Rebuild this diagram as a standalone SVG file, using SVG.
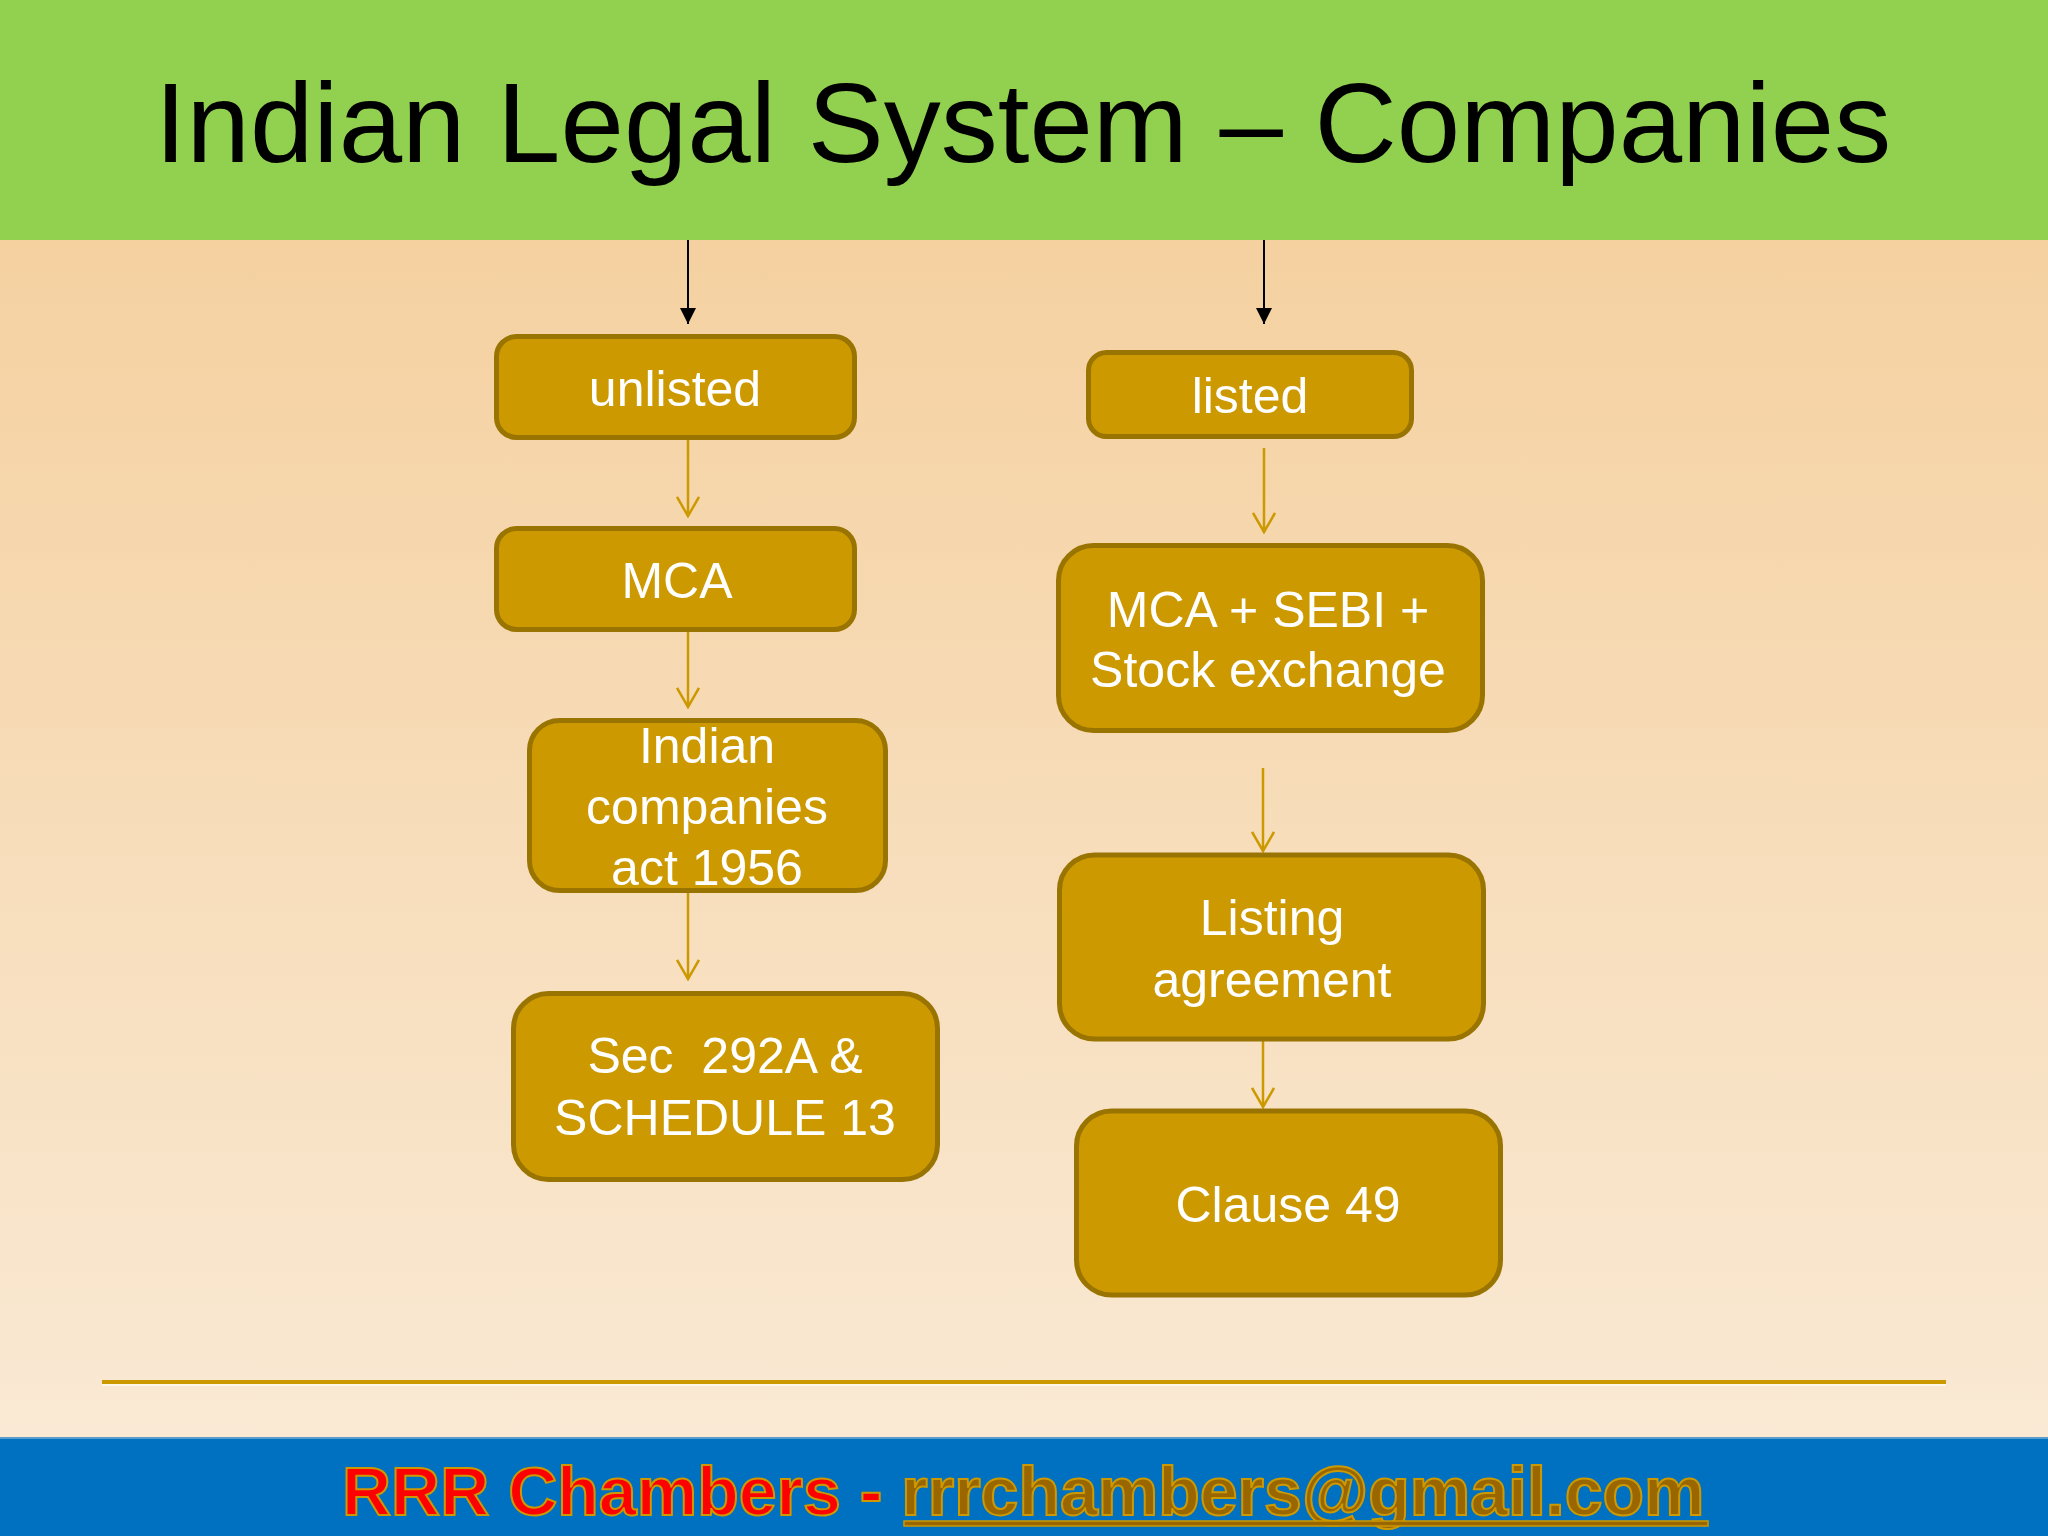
<svg xmlns="http://www.w3.org/2000/svg" width="2048" height="1536" viewBox="0 0 2048 1536">
<style>
.box{fill:#CC9900;stroke:#9A7400;stroke-width:5}
.t{font-family:"Liberation Sans",Arial,sans-serif;font-size:50px;fill:#FFFFFF;text-anchor:middle}
.blk{stroke:#000000;stroke-width:2;fill:none}
.gld{stroke:#CC9900;stroke-width:2.5;fill:none}
</style>
<defs>
<linearGradient id="bg" x1="0" y1="0" x2="0" y2="1">
<stop offset="0" stop-color="#F4CC96"/>
<stop offset="1" stop-color="#FAEBD8"/>
</linearGradient>
<marker id="solid" markerUnits="userSpaceOnUse" viewBox="0 0 16 16" refX="16" refY="8" markerWidth="16" markerHeight="16" orient="auto">
<path d="M0,0 L16,8 L0,16 z" fill="#000000"/>
</marker>
<marker id="open" markerUnits="userSpaceOnUse" viewBox="0 0 22 24" refX="20" refY="12" markerWidth="22" markerHeight="24" orient="auto">
<path d="M1,1 L20,12 L1,23" fill="none" stroke="#CC9900" stroke-width="2.5"/>
</marker>
</defs>
<rect x="0" y="0" width="2048" height="1536" fill="url(#bg)"/>
<rect x="0" y="0" width="2048" height="240" fill="#92D050"/>
<text x="1023" y="162" font-family="'Liberation Sans',Arial,sans-serif" font-size="114" fill="#000000" text-anchor="middle">Indian Legal System – Companies</text>

<g id="connectors">
<line class="blk" x1="688" y1="240" x2="688" y2="324" marker-end="url(#solid)"/>
<line class="blk" x1="1264" y1="240" x2="1264" y2="324" marker-end="url(#solid)"/>
<line class="gld" x1="688" y1="440" x2="688" y2="516" marker-end="url(#open)"/>
<line class="gld" x1="688" y1="632" x2="688" y2="707" marker-end="url(#open)"/>
<line class="gld" x1="688" y1="893" x2="688" y2="979" marker-end="url(#open)"/>
<line class="gld" x1="1264" y1="448" x2="1264" y2="532" marker-end="url(#open)"/>
<line class="gld" x1="1263" y1="768" x2="1263" y2="851" marker-end="url(#open)"/>
<line class="gld" x1="1263" y1="1041" x2="1263" y2="1107" marker-end="url(#open)"/>
</g>

<g id="node-unlisted">
<rect class="box" x="496.5" y="336.5" width="358" height="101" rx="20"/>
<text class="t" x="675" y="406">unlisted</text>
</g>
<g id="node-mca">
<rect class="box" x="496.5" y="528.5" width="358" height="101" rx="20"/>
<text class="t" x="677" y="598">MCA</text>
</g>
<g id="node-companies-act">
<rect class="box" x="529.5" y="720.5" width="356" height="170" rx="30"/>
<text class="t" x="707" y="763">Indian</text>
<text class="t" x="707" y="824">companies</text>
<text class="t" x="707" y="885">act 1956</text>
</g>
<g id="node-sec">
<rect class="box" x="513.5" y="993.5" width="424" height="186" rx="35"/>
<text class="t" x="725" y="1073" xml:space="preserve">Sec  292A &amp;</text>
<text class="t" x="725" y="1135">SCHEDULE 13</text>
</g>
<g id="node-listed">
<rect class="box" x="1088.5" y="352.5" width="323" height="84" rx="18"/>
<text class="t" x="1250" y="413">listed</text>
</g>
<g id="node-mca-sebi">
<rect class="box" x="1058.5" y="545.5" width="424" height="185" rx="35"/>
<text class="t" x="1268" y="627">MCA + SEBI +</text>
<text class="t" x="1268" y="687">Stock exchange</text>
</g>
<g id="node-listing">
<rect class="box" x="1059.5" y="855" width="424" height="184" rx="35"/>
<text class="t" x="1272" y="935">Listing</text>
<text class="t" x="1272" y="997">agreement</text>
</g>
<g id="node-clause">
<rect class="box" x="1076.5" y="1111" width="424" height="184" rx="35"/>
<text class="t" x="1288" y="1222">Clause 49</text>
</g>

<rect x="102" y="1380" width="1844" height="4" fill="#CC9900"/>
<rect x="102" y="1384" width="1844" height="2" fill="#FFF6E8"/>
<rect x="0" y="1437" width="2048" height="99" fill="#0070C0"/>
<rect x="0" y="1437" width="2048" height="2" fill="#5A9CCB"/>
<text x="342" y="1515" font-family="'Liberation Sans',Arial,sans-serif" font-size="68" font-weight="bold" stroke="#CC9900" stroke-width="2"><tspan fill="#FF0000" xml:space="preserve">RRR Chambers - </tspan><tspan fill="#996600">rrrchambers@gmail.com</tspan></text>
<rect x="904" y="1521" width="804" height="5" fill="#996600" stroke="#CC9900" stroke-width="1.5"/>
</svg>
